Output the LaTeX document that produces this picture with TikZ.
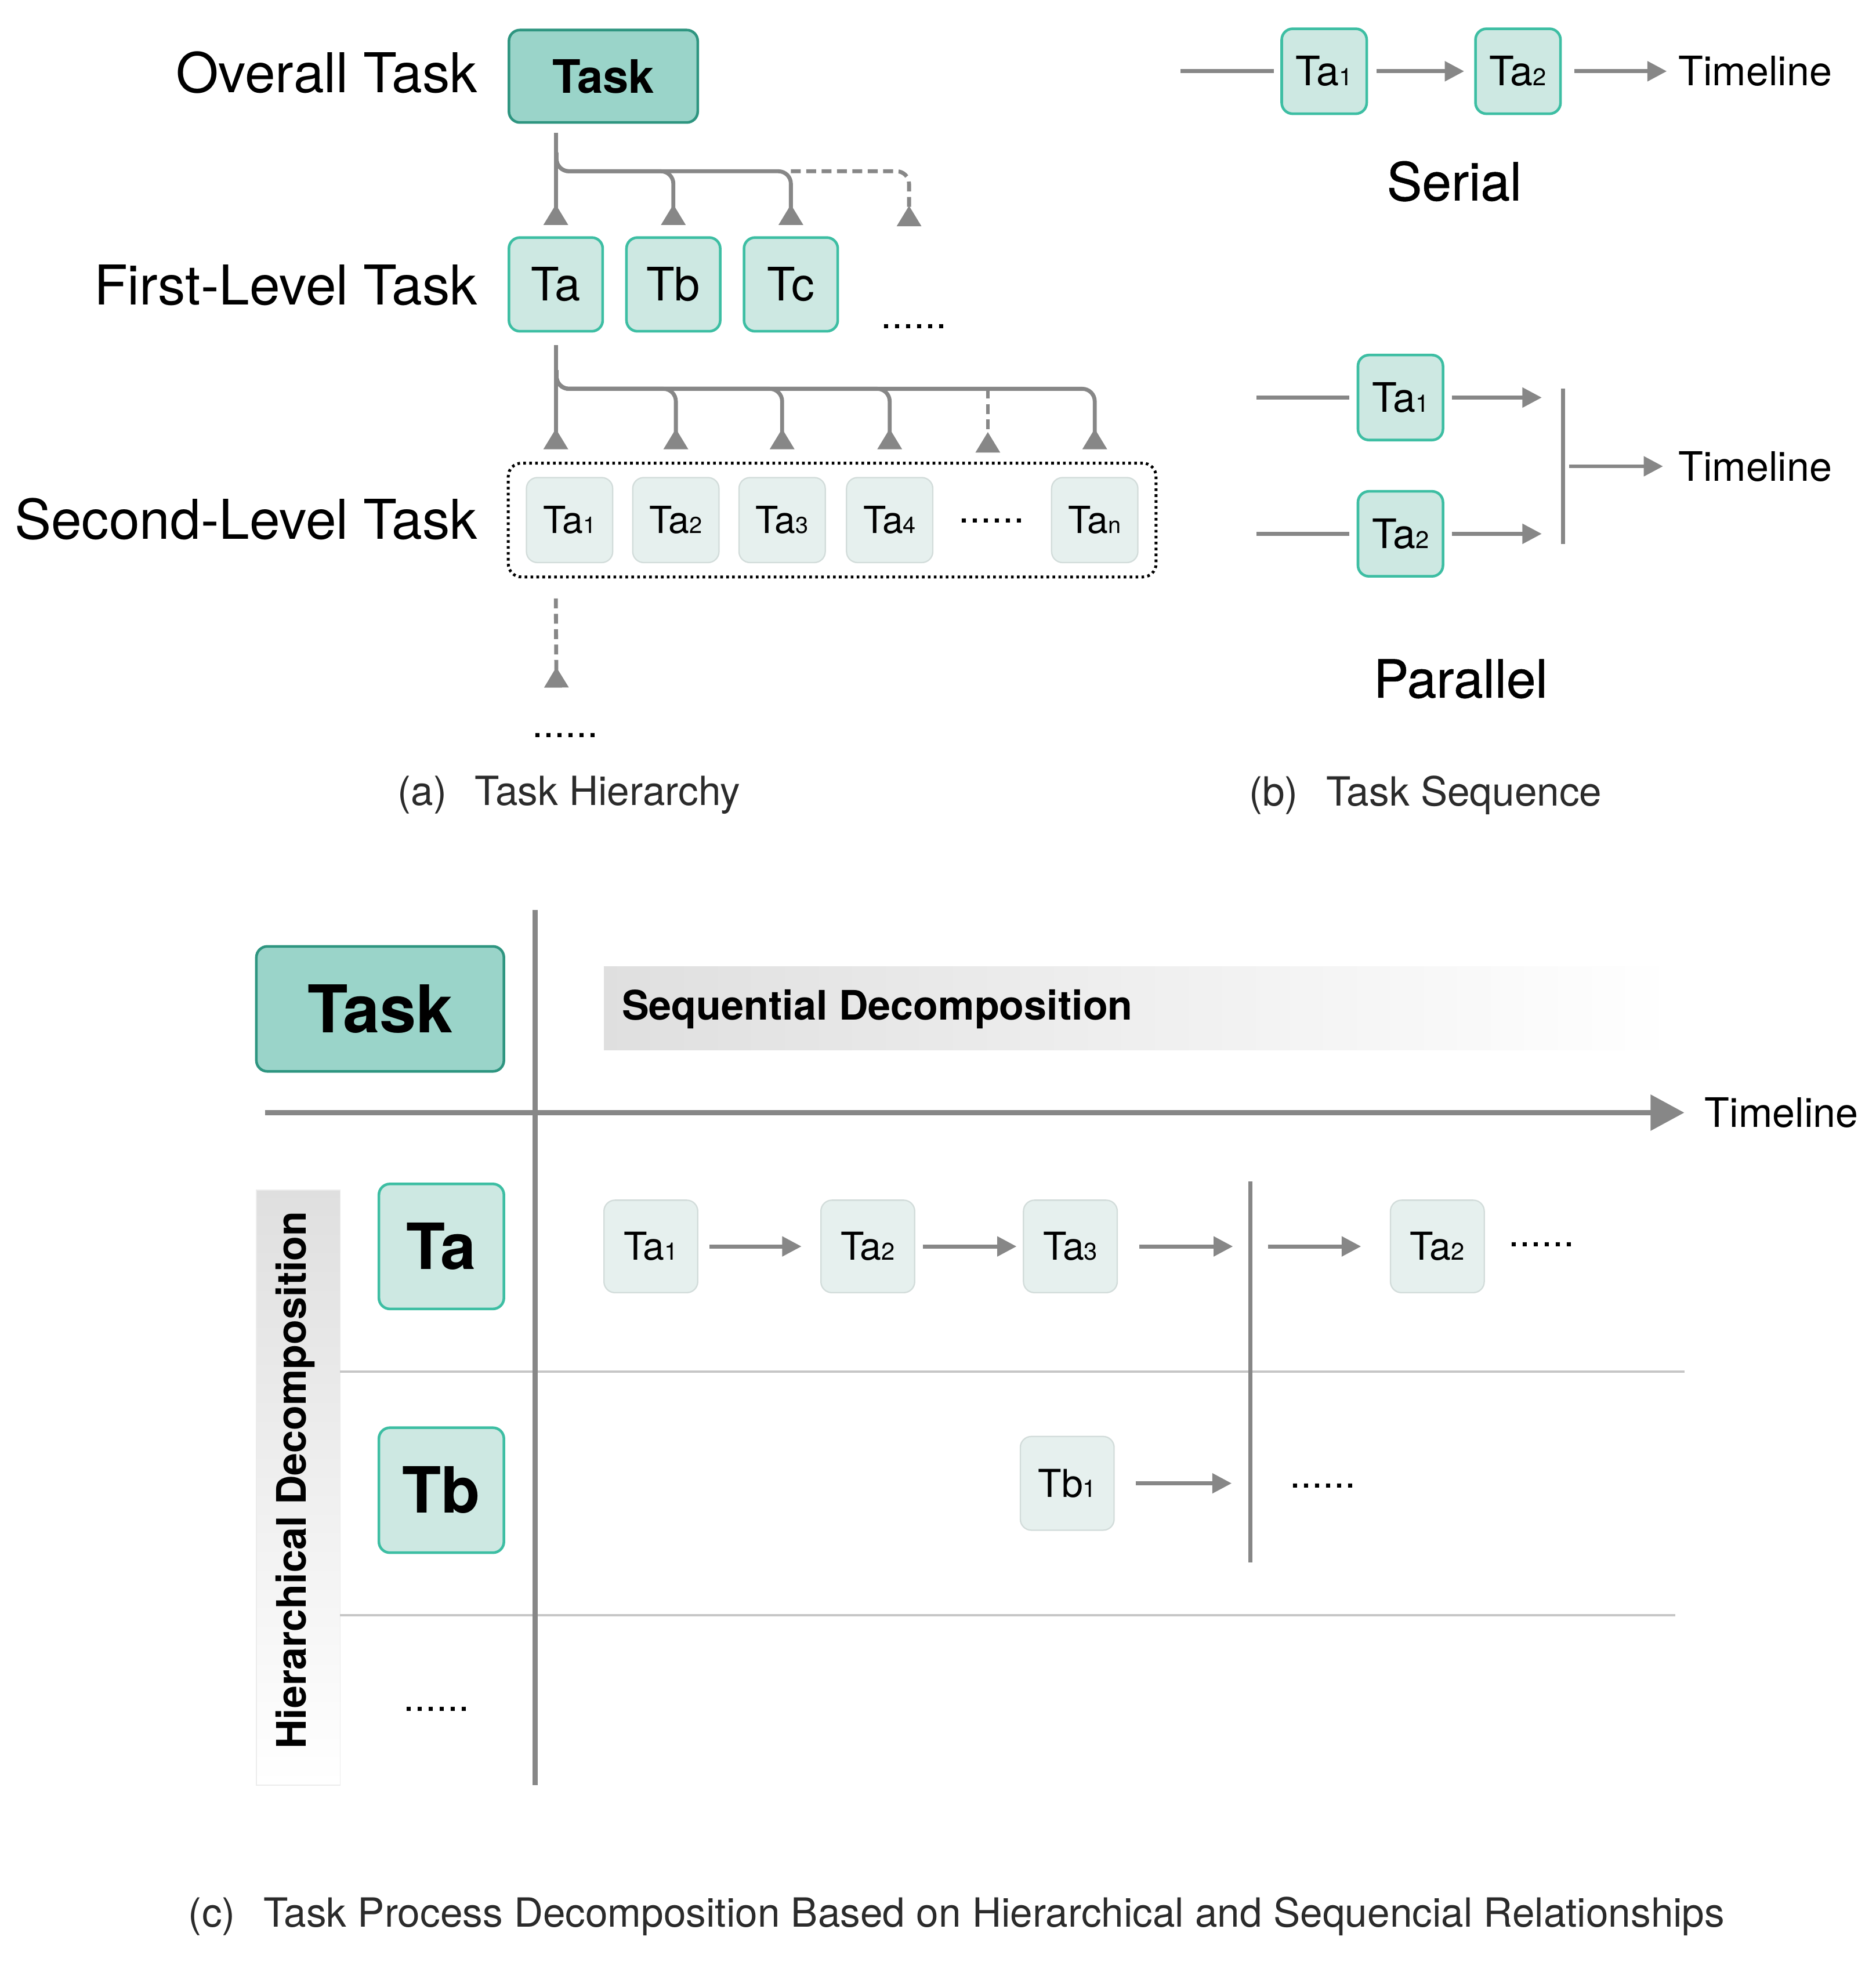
\documentclass[tikz,border=0pt]{standalone}
\usepackage{fontspec}
\setmainfont{TeX Gyre Heros}
\usetikzlibrary{arrows.meta,positioning,fit,shadings}
\definecolor{tealdark}{HTML}{9AD4C9}
\definecolor{tealedge}{HTML}{2E9580}
\definecolor{teallight}{HTML}{CDE8E2}
\definecolor{tealline}{HTML}{3DBEA3}
\definecolor{paleface}{HTML}{E6F0EE}
\definecolor{paleedge}{HTML}{D2DCDA}
\definecolor{linegray}{HTML}{878787}
\definecolor{rulegray}{HTML}{C6C6C6}
\definecolor{capgray}{HTML}{2B2B2B}
\def\dsz{10}
\newcommand\idx[1]{{\fontsize{\dsz}{\dsz}\selectfont #1}}
\begin{document}
\begin{tikzpicture}[x=0.02cm,y=-0.02cm,
  every node/.style={inner sep=0pt},
  bigbox/.style={draw=tealedge,fill=tealdark,line width=1.2pt,rounded corners=5pt},
  midbox/.style={draw=tealline,fill=teallight,line width=1.2pt,rounded corners=5pt},
  palebox/.style={draw=paleedge,fill=paleface,line width=0.6pt,rounded corners=5pt},
  lvllab/.style={anchor=east,font=\fontsize{25}{28}\selectfont},
  seqlab/.style={font=\fontsize{24}{26}\selectfont\addfontfeature{FakeBold=0.6}},
  link/.style={draw=linegray,line width=1.8pt},
  uptip/.style={link,-{Triangle[length=0.33cm,width=0.38cm,reversed]}},
  arr/.style={link,-{Triangle[length=0.31cm,width=0.31cm]}},
  captxt/.style={text=capgray,font=\fontsize{18.3}{20}\selectfont},
  dotrow/.style={anchor=base,font=\fontsize{18}{20}\selectfont},
  rowrule/.style={draw=rulegray,line width=1.1pt}]
\useasboundingbox (0,0) rectangle (1500,1575);
% (a) hierarchy
\node[bigbox,minimum width=3.02cm,minimum height=1.48cm,font=\bfseries\fontsize{21}{24}\selectfont] (task) at (482.5,61) {Task};
\node[lvllab] (lvl0) at (382,58) {Overall Task};
\node[lvllab] (lvl1) at (382,228) {First-Level Task};
\node[lvllab] (lvl2) at (382,415) {Second-Level Task};
\foreach \n/\x/\t in {ta/444.5/Ta,tb/538.5/Tb,tc/632.5/Tc}
  \node[midbox,minimum size=1.5cm,font=\fontsize{21}{24}\selectfont] (\n) at (\x,227.5) {\t};
\node[dotrow] (dotsA) at (731,263) {......};
\foreach \n/\x/\t in {sa1/455.5/1,sa2/540.5/2,sa3/625.5/3,sa4/711.5/4,san/875.5/n}
  \node[palebox,minimum width=1.38cm,minimum height=1.36cm,font=\fontsize{17}{18}\selectfont\def\dsz{10.5}] (\n) at (\x,416) {Ta\idx{\t}};
\node[dotrow] (dotsB) at (793,418) {......};
\node[draw,dash pattern=on 1.2pt off 1.5pt,line width=1.3pt,rounded corners=6pt,inner xsep=0.28cm,inner ysep=0.22cm,fit=(sa1)(san)] (group) {};
\coordinate (brA) at (445,137);
\coordinate (endA) at (727,181);
\draw[uptip] ([yshift=-0.14cm]task.south -| ta) -- ([yshift=0.18cm]ta.north);
\foreach \n in {tb,tc}
  \draw[uptip,rounded corners=0.2cm] ([yshift=0.3cm]brA) |- (\n |- brA) -- ([yshift=0.18cm]\n.north);
\draw[uptip,dash pattern=on 4.5pt off 2.5pt,rounded corners=0.2cm] (tc |- brA) -| (endA);
\coordinate (brB) at (445,311);
\coordinate (endB) at (790,362);
\draw[uptip] ([yshift=-0.2cm]ta.south) -- ([yshift=0.2cm]group.north -| ta);
\foreach \n in {sa2,sa3,sa4,san}
  \draw[uptip,rounded corners=0.2cm] ([yshift=0.3cm]brB) |- (\n |- brB) -- ([yshift=0.2cm]group.north -| \n);
\draw[uptip,dash pattern=on 4.5pt off 2.5pt] (endB |- brB) -- (endB);
\coordinate (endC) at (445,550);
\node[dotrow] (dotsC) at (452,590) {......};
\draw[uptip,dash pattern=on 4.5pt off 2.5pt] ([yshift=-0.32cm]group.south -| ta) -- (endC);
\node[captxt] (capA) at (455,636) {(a)\hspace{0.7em}Task Hierarchy};
% (b) sequence
\node[midbox,minimum size=1.36cm,font=\fontsize{18.5}{20}\selectfont\def\dsz{11}] (s1) at (1059,57) {Ta\idx1};
\node[midbox,minimum size=1.36cm,font=\fontsize{18.5}{20}\selectfont\def\dsz{11}] (s2) at (1214,57) {Ta\idx2};
\node[anchor=west,font=\fontsize{18.5}{20}\selectfont] (tlS) at (1342,57) {Timeline};
\coordinate (inS) at (944,57);
\draw[link] (inS) -- ([xshift=-0.1cm]s1.west);
\draw[arr] ([xshift=0.14cm]s1.east) -- ([xshift=-0.16cm]s2.west);
\draw[arr] ([xshift=0.2cm]s2.east) -- ([xshift=-0.18cm]tlS.west);
\node[seqlab] (serial) at (1163,145) {Serial};
\node[midbox,minimum size=1.36cm,font=\fontsize{18.5}{20}\selectfont\def\dsz{11}] (p1) at (1120,318) {Ta\idx1};
\node[midbox,minimum size=1.36cm,font=\fontsize{18.5}{20}\selectfont\def\dsz{11}] (p2) at (1120,427) {Ta\idx2};
\coordinate (inP) at (1005,373);
\coordinate (barT) at (1250,311);
\coordinate (barB) at (1250,435);
\draw[link] (barT) -- (barB);
\foreach \n in {p1,p2} {
  \draw[link] (inP |- \n) -- ([xshift=-0.12cm]\n.west);
  \draw[arr] ([xshift=0.12cm]\n.east) -- ([xshift=-0.34cm]barT |- \n);
}
\node[anchor=west,font=\fontsize{18.5}{20}\selectfont] (tlP) at (1342,373) {Timeline};
\draw[arr] ([xshift=0.1cm]barT |- tlP) -- ([xshift=-0.24cm]tlP.west);
\node[seqlab] (parallel) at (1168,543) {Parallel};
\node[captxt] (capB) at (1140,636) {(b)\hspace{0.7em}Task Sequence};
% (c) decomposition
\node[bigbox,minimum width=3.96cm,minimum height=2cm,font=\bfseries\fontsize{30}{32}\selectfont] (bigtask) at (304,807) {Task};
\shade[left color=gray!25,right color=white] (483,773) rectangle (1340,840);
\node[anchor=west,font=\bfseries\fontsize{18.5}{20}\selectfont] (seqhead) at (497,807) {Sequential Decomposition};
\shade[top color=gray!25,bottom color=white,draw=gray!15] (205,952) rectangle (272,1428);
\node[rotate=90,font=\bfseries\fontsize{18.5}{20}\selectfont] (hierhead) at (236,1184) {Hierarchical Decomposition};
\draw[rowrule] (272,1097) -- (1347,1097);
\draw[rowrule] (272,1292) -- (1340,1292);
\coordinate (axT) at (428,728);
\coordinate (axB) at (428,1428);
\draw[link,line width=2.4pt] (axT) -- (axB);
\node[anchor=west,font=\fontsize{18.5}{20}\selectfont] (tlC) at (1363,890) {Timeline};
\coordinate (axL) at (212,890);
\draw[link,line width=2.4pt,-{Triangle[length=0.54cm,width=0.56cm]}] (axL) -- ([xshift=-0.32cm]tlC.west);
\node[midbox,minimum size=2cm,font=\bfseries\fontsize{29}{30}\selectfont] (rowa) at (353,997) {Ta};
\node[midbox,minimum size=2cm,font=\bfseries\fontsize{29}{30}\selectfont] (rowb) at (353,1192) {Tb};
\node[dotrow] (dotsD) at (349,1369) {......};
\foreach \n/\x/\t in {c1/520.5/1,c2/694/2,c3/856/3,c4/1149.5/2}
  \node[palebox,minimum width=1.5cm,minimum height=1.48cm,font=\fontsize{17.5}{18}\selectfont\def\dsz{11}] (\n) at (\x,997) {Ta\idx{\t}};
\node[palebox,minimum width=1.5cm,minimum height=1.5cm,font=\fontsize{17.5}{18}\selectfont\def\dsz{11}] (d1) at (853.5,1186.5) {Tb\idx1};
\coordinate (sepT) at (1000,945);
\coordinate (sepB) at (1000,1250);
\draw[link] (sepT) -- (sepB);
\draw[arr] ([xshift=0.18cm]c1.east) -- ([xshift=-0.3cm]c2.west);
\draw[arr] ([xshift=0.12cm]c2.east) -- ([xshift=-0.1cm]c3.west);
\draw[arr] ([xshift=0.34cm]c3.east) -- ([xshift=-0.28cm]sepT |- c3);
\draw[arr] ([xshift=0.28cm]sepT |- c3) -- ([xshift=-0.46cm]c4.west);
\node[dotrow] (dotsE) at (1233,997) {......};
\draw[arr] ([xshift=0.34cm]d1.east) -- ([xshift=-0.3cm]sepT |- d1);
\node[dotrow] (dotsF) at (1058,1190) {......};
\node[captxt] (capC) at (765,1533) {(c)\hspace{0.7em}Task Process Decomposition Based on Hierarchical and Sequencial Relationships};
\end{tikzpicture}
\end{document}
